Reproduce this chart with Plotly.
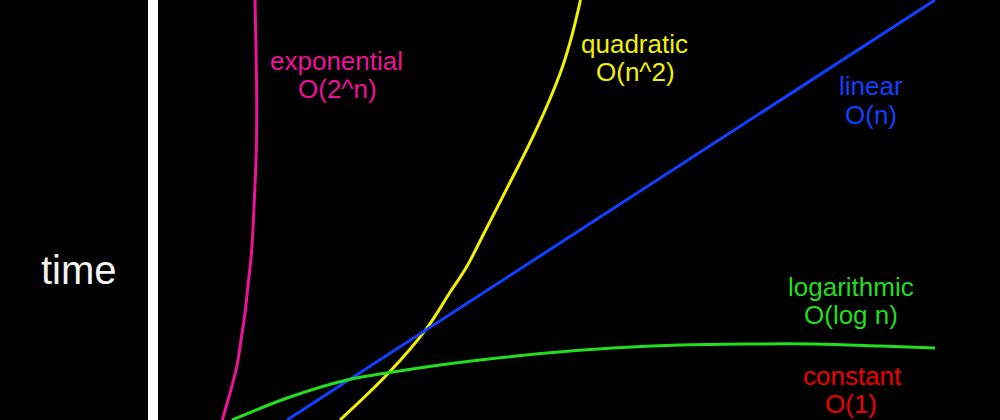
import plotly.graph_objects as go

# n measured from the time axis, time measured from the bottom edge
exp_n = [69.3, 77, 83.7, 88, 92, 95.3, 98.7, 101.3, 103.3, 103.7, 103, 102]
exp_t = [0, 27, 53, 80, 107, 137, 170, 220, 270, 320, 370, 420]

quad_n = [187, 235.3, 273.7, 296.4, 313.7, 331, 348, 365, 381.5, 396.5, 409.5, 419.5, 427.5]
quad_t = [0, 46.7, 91.7, 126.7, 153.3, 186.7, 220, 253.3, 286.7, 320, 353.3, 386.7, 420]

lin_n = [134, 782]
lin_t = [0, 420]

log_n = [79, 137, 194, 240, 287, 327, 394, 460, 527, 594, 660, 727, 782]
log_t = [0, 23, 40, 48, 55, 60, 67, 72, 75, 76, 76, 74, 72]

labels = [
    ("exponential", 183, 359, "#ee1199"),
    ("O(2^n)", 184, 331, "#ee1199"),
    ("quadratic", 481, 376, "#f2f200"),
    ("O(n^2)", 482, 348, "#f2f200"),
    ("linear", 718, 334, "#1040ff"),
    ("O(n)", 718, 305, "#1040ff"),
    ("logarithmic", 698, 133, "#22dd22"),
    ("O(log n)", 698, 105, "#22dd22"),
    ("constant", 699, 44, "#ee0000"),
    ("O(1)", 698, 16, "#ee0000"),
]

FONT = "Liberation Sans, Arial, sans-serif"

fig = go.Figure()
series = [
    (exp_n, exp_t, "#ee1199", "spline"),
    (quad_n, quad_t, "#f2f200", "spline"),
    (lin_n, lin_t, "#1040ff", "linear"),
    (log_n, log_t, "#22dd22", "spline"),
]
for xs, ys, col, shape in series:
    fig.add_trace(go.Scatter(x=xs, y=ys, mode="lines",
                             line=dict(color=col, width=3, shape=shape),
                             hoverinfo="skip", showlegend=False))

for txt, x, y, col in labels:
    fig.add_annotation(x=x, y=y, xref="x", yref="y", text=txt, showarrow=False,
                       font=dict(family=FONT, size=26, color=col),
                       xanchor="center", yanchor="middle")

fig.add_annotation(x=-0.0938, y=150 / 420, xref="paper", yref="paper", text="time",
                   showarrow=False,
                   font=dict(family=FONT, size=40, color="#f4f4f4"),
                   xanchor="center", yanchor="middle")

fig.update_layout(
    width=1000, height=420,
    margin=dict(l=158, r=0, t=0, b=0),
    paper_bgcolor="black", plot_bgcolor="black",
    xaxis=dict(range=[5, 847], showgrid=False, zeroline=False, showticklabels=False,
               ticks="", showline=False),
    yaxis=dict(range=[0, 420], showgrid=False, zeroline=False, showticklabels=False,
               ticks="", showline=True, linecolor="white", linewidth=10),
)

fig.write_html("out.html", config={"displayModeBar": False},
               post_script="document.body.style.margin='0';document.body.style.background='black';document.body.style.overflow='hidden';")
